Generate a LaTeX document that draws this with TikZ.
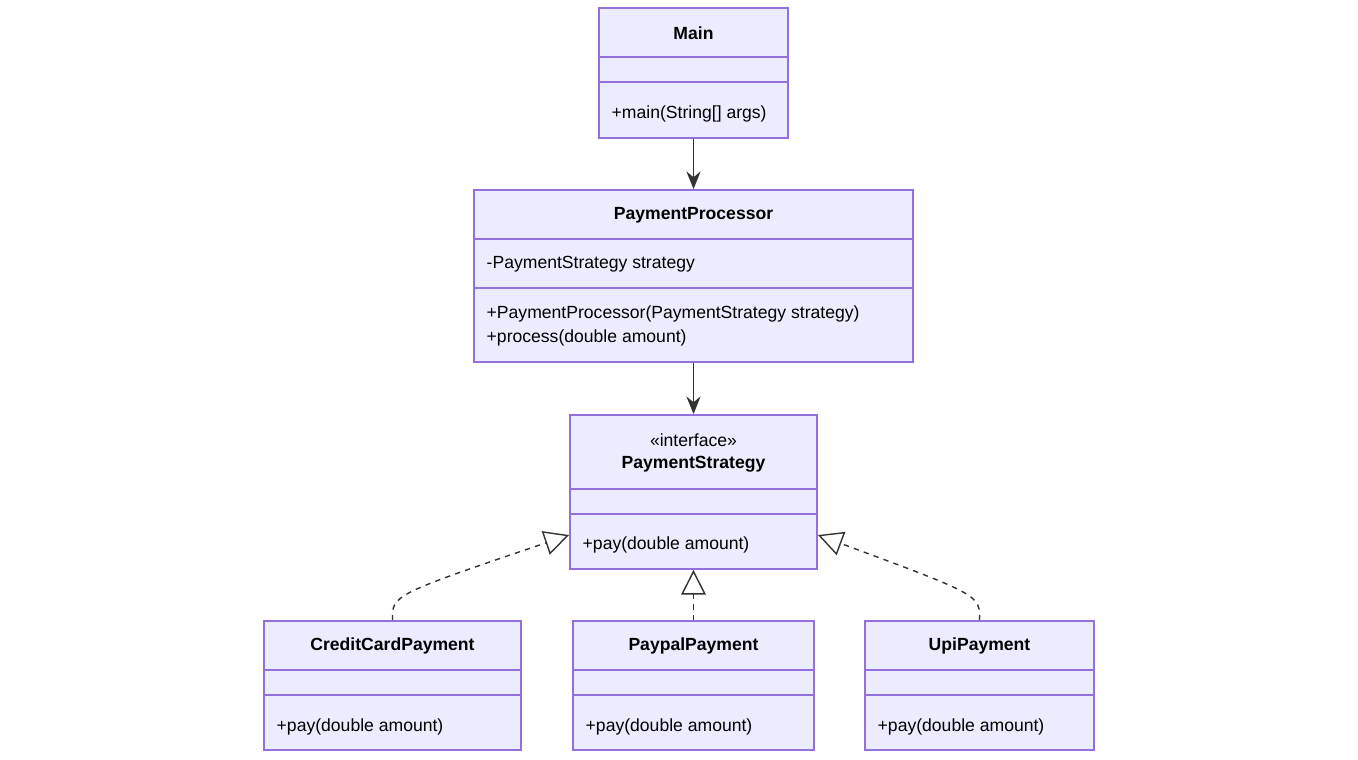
\documentclass[tikz,border=0pt]{standalone}
\usepackage{fontspec}
\setmainfont{Liberation Sans}
\usetikzlibrary{arrows.meta,positioning}
\definecolor{classfill}{HTML}{ECECFF}
\definecolor{classdraw}{HTML}{9370DB}
\begin{document}
\begin{tikzpicture}[
    x=0.01cm, y=-0.01cm,
    font=\fontsize{5}{6}\selectfont,
    % Block styles
    classbox/.style={
        rectangle,
        draw=classdraw,
        fill=classfill,
        inner sep=0pt,
        line width=0.5pt
    },
    divider/.style={draw=classdraw, line width=0.5pt},
    title/.style={font=\fontsize{5}{6}\selectfont\bfseries},
    member/.style={anchor=west, inner sep=0pt},
    assoc/.style={draw=black!80, line width=0.5pt, -{Stealth[length=5pt,width=4pt]}},
    realize/.style={draw=black!80, line width=0.4pt, dash pattern=on 1.5pt off 1.5pt,
        -{Triangle[open,length=7pt,width=7pt]}}
]
\useasboundingbox (0,0) rectangle (1358,759);

% Main
\node[classbox, minimum width=1.89cm, minimum height=1.30cm] (main) at (693.5,73) {};
\draw[divider] (599,57) -- (788,57) (599,82) -- (788,82);
\node[title] (main_t) at (693.5,33) {Main};
\node[member] (main_m) at (611,114) {+main(String[] args)};

% Payment processor
\node[classbox, minimum width=4.39cm, minimum height=1.72cm] (proc) at (693.5,276) {};
\draw[divider] (474,239) -- (913,239) (474,288) -- (913,288);
\node[title] (proc_t) at (693.5,215) {PaymentProcessor};
\node[member] (proc_a) at (486,264) {-PaymentStrategy strategy};
\node[member] (proc_m1) at (486,314) {+PaymentProcessor(PaymentStrategy strategy)};
\node[member] (proc_m2) at (486,338) {+process(double amount)};

% Strategy interface
\node[classbox, minimum width=2.47cm, minimum height=1.54cm] (strat) at (693.5,492) {};
\draw[divider] (570,489) -- (817,489) (570,514) -- (817,514);
\node (strat_s) at (693.5,440) {«interface»};
\node[title] (strat_t) at (693.5,464) {PaymentStrategy};
\node[member] (strat_m) at (582,545) {+pay(double amount)};

% Concrete strategies
\foreach \nm/\lbl/\xl/\xr in {credit/CreditCardPayment/264/521, paypal/PaypalPayment/573/814, upi/UpiPayment/865/1094}{
    \pgfmathsetmacro{\xc}{(\xl+\xr)/2}
    \pgfmathsetmacro{\boxw}{(\xr-\xl)/100}
    \node[classbox, minimum width=\boxw cm, minimum height=1.29cm] (\nm) at (\xc,685.5) {};
    \draw[divider] (\xl,670) -- (\xr,670) (\xl,695) -- (\xr,695);
    \node[title] (\nm_t) at (\xc,646) {\lbl};
    \node[member] (\nm_m) at (\xl+12,727) {+pay(double amount)};
}

% Connections
\draw[assoc] (main) -- (proc);
\draw[assoc] (proc) -- (strat);
\draw[realize] (paypal.north) -- (strat.south);
\draw[realize] (credit.north) .. controls (392,595) .. (strat.south west |- 0,535);
\draw[realize] (upi.north) .. controls (980,595) .. (strat.south east |- 0,535);

\end{tikzpicture}
\end{document}
